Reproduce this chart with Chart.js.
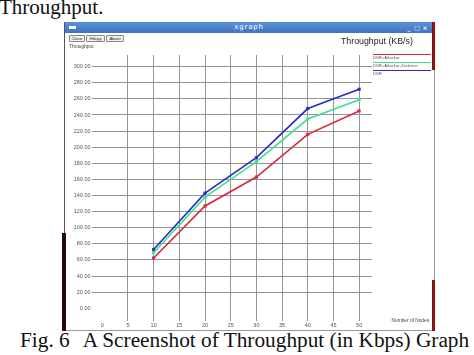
<!DOCTYPE html>
<html><head><meta charset="utf-8">
<script src="https://cdn.jsdelivr.net/npm/chart.js@4/dist/chart.umd.min.js"></script>
<style>
html,body{margin:0;padding:0;background:#fff;width:474px;height:355px;overflow:hidden;position:relative}
.abs{position:absolute}
#top{left:-1px;top:-2.6px;font:21px/21px "Liberation Serif",serif;color:#111;white-space:nowrap}
#cap{left:20px;top:329.7px;font:21.3px/21px "Liberation Serif",serif;color:#111;white-space:nowrap}
#win{left:64px;top:22px;width:369px;height:308px;background:#fff;border-left:1px solid #555;border-bottom:1px solid #999;border-right:1px solid #999}
#bar{left:65px;top:22px;width:368px;height:11px;background:linear-gradient(#5c92da,#3f74c0)}
#bar .t{position:absolute;left:0;width:100%;top:1px;text-align:center;font:7px/9px "DejaVu Sans",sans-serif;color:#fff;letter-spacing:0.8px}
#ico{left:69px;top:26px;width:7px;height:3px;background:#fff}
.wb{position:absolute;top:25px;width:6px;height:6px;font:bold 6px/6px "DejaVu Sans",sans-serif;color:#fff;text-align:center}
.btn{position:absolute;top:34.5px;height:5px;border:1px solid #888;border-radius:1px;background:#f2f2f2;font:4.3px/5px "Liberation Sans",sans-serif;color:#222;text-align:center}
#lbar{left:62px;top:233px;width:4px;height:98px;background:#2a0808}
#rbar1{left:432px;top:22px;width:3px;height:48px;background:#8a1212}
#rbar2{left:432px;top:280px;width:3px;height:51px;background:#8a1212}
#c{position:absolute;left:0;top:0;z-index:5}
</style></head>
<body>
<div id="top" class="abs">Throughput.</div>
<div id="win" class="abs"></div>
<div id="bar" class="abs"><div class="t">xgraph</div></div>
<div id="ico" class="abs"></div>
<div class="wb" style="left:406px">_</div>
<div class="wb" style="left:414px">□</div>
<div class="wb" style="left:422px">×</div>
<div class="btn" style="left:69px;width:14px">Close</div>
<div class="btn" style="left:86px;width:17px">Hdcpy</div>
<div class="btn" style="left:106px;width:16px">About</div>
<div id="lbar" class="abs"></div>
<div id="rbar1" class="abs"></div>
<div id="rbar2" class="abs"></div>
<div id="cap" class="abs">Fig. 6<span style="display:inline-block;width:13px"></span>A Screenshot of Throughput (in Kbps) Graph</div>
<canvas id="c" width="474" height="355"></canvas>
<script>
// ---- data ----
const nodes = [10, 20, 30, 40, 50];
const dsrAttacker = [62.5, 127, 163, 216, 245];
const dsrAttackerDefence = [69, 138, 182, 235, 259];
const dsr = [73, 143, 187, 248, 272];
const seriesNames = ["DSR+Attacker", "DSR+Attacker+Defence", "DSR"];
const xTickValues = [0, 5, 10, 15, 20, 25, 30, 35, 40, 45, 50];
const yTickValues = [0, 20, 40, 60, 80, 100, 120, 140, 160, 180, 200, 220, 240, 260, 280, 300];
const chartTitle = "Throughput (KB/s)";
const xTitle = "Number of Nodes";
const yTitle = "Throughput";

const colors = ["#d8283a", "#3fe08f", "#2b2bc4"];
const pts = arr => arr.map((v, i) => ({x: nodes[i], y: v}));

const overlay = {
  id: 'overlay',
  afterDraw(chart) {
    const c = chart.ctx;
    c.save();
    c.fillStyle = '#222';
    c.font = '8.8px "Liberation Sans", sans-serif';
    c.textBaseline = 'middle';
    c.textAlign = 'left';
    c.fillText(chartTitle, 341, 42);
    c.font = '4.2px "Liberation Sans", sans-serif';
    chart.data.datasets.forEach((d, i) => {
      const y = 54.5 + i * 8;
      c.strokeStyle = d.borderColor;
      c.lineWidth = 1;
      c.beginPath(); c.moveTo(373, y); c.lineTo(431, y); c.stroke();
      c.fillStyle = '#555';
      c.textBaseline = 'top';
      c.fillText(d.label, 373, y + 1.3);
    });
    c.fillStyle = '#444';
    c.textBaseline = 'middle';
    c.font = '4.8px "Liberation Sans", sans-serif';
    c.fillText(xTitle, 391.5, 320.5);
    c.fillText(yTitle, 69, 46.5);
    c.restore();
  }
};

const mk = (label, data, col) => ({
  label, data: pts(data), borderColor: col, backgroundColor: col,
  borderWidth: 1.6, pointStyle: 'rect', pointRadius: 2.2, pointBorderWidth: 0, tension: 0
});

new Chart(document.getElementById('c'), {
  type: 'line',
  data: {
    datasets: [
      mk(seriesNames[0], dsrAttacker, colors[0]),
      mk(seriesNames[1], dsrAttackerDefence, colors[1]),
      mk(seriesNames[2], dsr, colors[2])
    ]
  },
  options: {
    responsive: false, animation: false, devicePixelRatio: 1,
    layout: {padding: {left: 0, top: 55, right: 102, bottom: 23}},
    plugins: {legend: {display: false}, title: {display: false}, tooltip: {enabled: false}},
    scales: {
      x: {
        type: 'linear', min: -2.0, max: 52.5,
        afterBuildTicks: s => { s.ticks = xTickValues.map(v => ({value: v})); },
        afterFit: s => { s.height = 11; },
        grid: {color: ctx => (ctx.tick && ctx.tick.value === 0) ? 'rgba(0,0,0,0)' : '#959595', lineWidth: 1, drawTicks: false},
        border: {display: false},
        ticks: {padding: 1.5, maxRotation: 0, autoSkip: false, color: '#555',
          font: {family: '"Liberation Sans", sans-serif', size: 5.5},
          callback: v => String(v)}
      },
      y: {
        type: 'linear', min: -15.8, max: 314.5,
        afterBuildTicks: s => { s.ticks = yTickValues.map(v => ({value: v})); },
        afterFit: s => { s.width = 92; },
        grid: {color: ctx => (ctx.tick && ctx.tick.value === 0) ? 'rgba(0,0,0,0)' : '#959595', lineWidth: 1, drawTicks: false},
        border: {display: false},
        ticks: {padding: 1.5, autoSkip: false, color: '#555',
          font: {family: '"Liberation Sans", sans-serif', size: 5.5},
          callback: v => Number(v).toFixed(2)}
      }
    }
  },
  plugins: [overlay]
});
</script>
</body></html>
